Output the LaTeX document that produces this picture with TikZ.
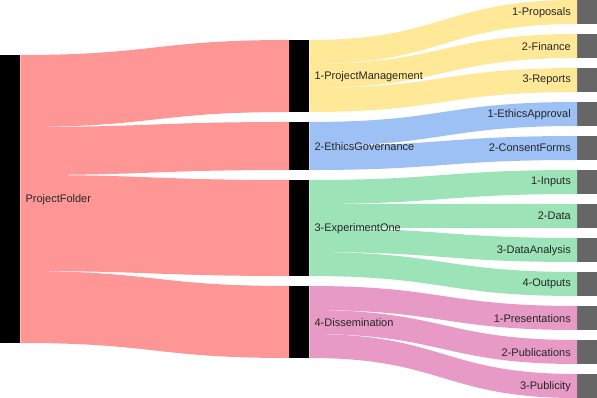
\documentclass[tikz,border=0pt]{standalone}
\usepackage{fontspec}
\setmainfont{Liberation Sans}
\usetikzlibrary{positioning, calc}

\definecolor{flowroot}{RGB}{255,150,150}
\definecolor{flowpm}{RGB}{255,233,153}
\definecolor{flowgov}{RGB}{158,193,245}
\definecolor{flowexp}{RGB}{157,227,184}
\definecolor{flowdis}{RGB}{231,154,197}
\definecolor{leafgray}{RGB}{102,102,102}

% band from source node (offset, width) to target node (offset)
\newcommand\band[6]{%
  \path (#1.north east) ++(0,#2) coordinate (s0) ++(0,#5) coordinate (s1);
  \path (#3.north west) ++(0,#4) coordinate (t0) ++(0,#5) coordinate (t1);
  \coordinate (m) at ($(s0)!0.5!(t0)$);
  \fill[#6] (s0) .. controls (m |- s0) and (m |- t0) .. (t0) -- (t1)
    .. controls (m |- t1) and (m |- s1) .. (s1) -- cycle;
}

\begin{document}
\begin{tikzpicture}[
    x=1pt, y=-1pt,
    % Stili dei nodi
    bar/.style={rectangle, fill=black, inner sep=0pt, minimum width=20pt, anchor=north west},
    leafbar/.style={bar, fill=leafgray, minimum height=24pt},
    txt/.style={inner sep=0pt, text=black!85, font=\fontsize{11}{13}\selectfont}
]
    \useasboundingbox (0,0) rectangle (597,398);

    % ==================== BARS ====================
    \node [bar, minimum height=288pt] (root) at (0,55) {};

    \node [bar, minimum height=72pt] (pm) at (289,40) {};
    \node [bar, minimum height=48pt] (gov) at (289,122) {};
    \node [bar, minimum height=96pt] (exp) at (289,180) {};
    \node [bar, minimum height=72pt] (dis) at (289,286) {};

    \node [leafbar] (prop) at (577,0) {};
    \node [leafbar] (fin) at (577,34) {};
    \node [leafbar] (rep) at (577,68) {};
    \node [leafbar] (ethapp) at (577,102) {};
    \node [leafbar] (consent) at (577,136) {};
    \node [leafbar] (inp) at (577,170) {};
    \node [leafbar] (data) at (577,204) {};
    \node [leafbar] (analysis) at (577,238) {};
    \node [leafbar] (outp) at (577,272) {};
    \node [leafbar] (pres) at (577,306) {};
    \node [leafbar] (publ) at (577,340) {};
    \node [leafbar] (publicity) at (577,374) {};

    % ==================== FLOWS ====================
    \band{root}{0}{pm}{0}{72}{flowroot}
    \band{root}{72}{gov}{0}{48}{flowroot}
    \band{root}{120}{exp}{0}{96}{flowroot}
    \band{root}{216}{dis}{0}{72}{flowroot}

    \band{pm}{0}{prop}{0}{24}{flowpm}
    \band{pm}{24}{fin}{0}{24}{flowpm}
    \band{pm}{48}{rep}{0}{24}{flowpm}

    \band{gov}{0}{ethapp}{0}{24}{flowgov}
    \band{gov}{24}{consent}{0}{24}{flowgov}

    \band{exp}{0}{inp}{0}{24}{flowexp}
    \band{exp}{24}{data}{0}{24}{flowexp}
    \band{exp}{48}{analysis}{0}{24}{flowexp}
    \band{exp}{72}{outp}{0}{24}{flowexp}

    \band{dis}{0}{pres}{0}{24}{flowdis}
    \band{dis}{24}{publ}{0}{24}{flowdis}
    \band{dis}{48}{publicity}{0}{24}{flowdis}

    % ==================== LABELS ====================
    \node [txt, right=5pt of root] (root_lbl) {ProjectFolder};

    \node [txt, right=5pt of pm] (pm_lbl) {1-ProjectManagement};
    \node [txt, right=5pt of gov] (gov_lbl) {2-EthicsGovernance};
    \node [txt, right=5pt of exp] (exp_lbl) {3-ExperimentOne};
    \node [txt, right=5pt of dis] (dis_lbl) {4-Dissemination};

    \node [txt, left=6pt of prop] (prop_lbl) {1-Proposals};
    \node [txt, left=6pt of fin] (fin_lbl) {2-Finance};
    \node [txt, left=6pt of rep] (rep_lbl) {3-Reports};
    \node [txt, left=6pt of ethapp] (ethapp_lbl) {1-EthicsApproval};
    \node [txt, left=6pt of consent] (consent_lbl) {2-ConsentForms};
    \node [txt, left=6pt of inp] (inp_lbl) {1-Inputs};
    \node [txt, left=6pt of data] (data_lbl) {2-Data};
    \node [txt, left=6pt of analysis] (analysis_lbl) {3-DataAnalysis};
    \node [txt, left=6pt of outp] (outp_lbl) {4-Outputs};
    \node [txt, left=6pt of pres] (pres_lbl) {1-Presentations};
    \node [txt, left=6pt of publ] (publ_lbl) {2-Publications};
    \node [txt, left=6pt of publicity] (publicity_lbl) {3-Publicity};

\end{tikzpicture}
\end{document}
